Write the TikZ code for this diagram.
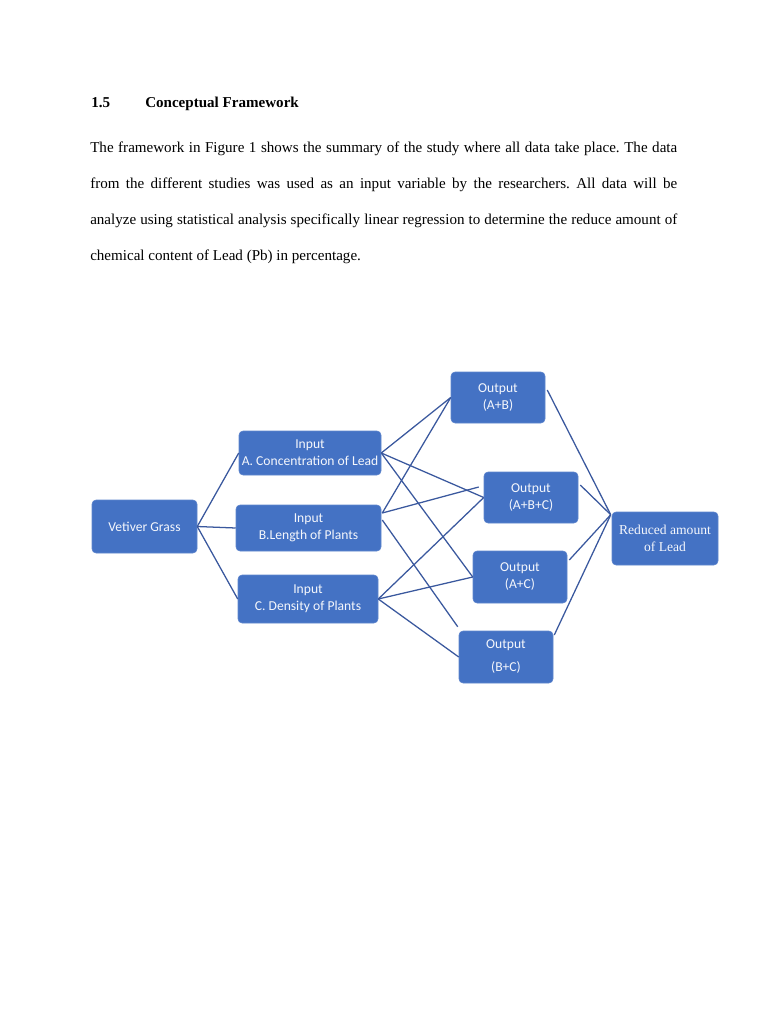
\documentclass[tikz,border=0pt]{standalone}
\usepackage{fontspec}
\setmainfont{Liberation Serif}
\newfontfamily\calibrifont{Carlito}
\usetikzlibrary{calc}
\definecolor{boxblue}{RGB}{68,114,196}
\definecolor{edgeblue}{RGB}{58,88,158}
\definecolor{boxtext}{RGB}{245,247,252}
\frenchspacing
\begin{document}
\begin{tikzpicture}[x=0.75pt,y=-0.75pt,
  box/.style={fill=boxblue, draw=boxblue!85!white, line width=0.4pt, rounded corners=3pt,
    text=boxtext, align=center, inner sep=0pt,
    font=\calibrifont\fontsize{10.2}{12.75}\selectfont},
  serifbox/.style={box, font=\fontsize{10.2}{12.75}\selectfont},
  link/.style={draw=edgeblue, line width=0.95pt},
  para/.style={anchor=base west, inner sep=0pt, font=\frenchspacing\fontsize{11.3}{13}\selectfont},
  head/.style={anchor=base west, inner sep=0pt, font=\bfseries\fontsize{11.3}{13}\selectfont}]
\useasboundingbox[fill=white] (0,0) rectangle (768,1024);

% heading and paragraph
\node[head] (hnum) at (91,108) {1.5};
\node[head] (htitle) at (145,108) {Conceptual Framework};
\node[para] (p1) at (90,152) {\makebox[440.25pt][s]{The framework in Figure 1 shows the summary of the study where all data take place. The data}};
\node[para] (p2) at (90,188) {\makebox[440.25pt][s]{from the different studies was used as an input variable by the researchers. All data will be}};
\node[para] (p3) at (90,224) {\makebox[440.25pt][s]{analyze using statistical analysis specifically linear regression to determine the reduce amount of}};
\node[para] (p4) at (90,260) {chemical content of Lead (Pb) in percentage.};

% boxes
\node[box, minimum width=78.75pt, minimum height=39.75pt] (V) at (144.5,526.5) {Vetiver Grass};
\node[box, minimum width=106.5pt, minimum height=33pt] (A) at (310,453) {Input\\A. Concentration of Lead};
\node[box, minimum width=108.75pt, minimum height=34.5pt] (B) at (308.5,528) {Input\\B.Length of Plants};
\node[box, minimum width=105pt, minimum height=36pt] (C) at (308,599) {Input\\C. Density of Plants};
\node[box, minimum width=70.5pt, minimum height=38.25pt] (O1) at (498,397.5) {Output\\(A+B)};
\node[box, minimum width=70.5pt, minimum height=38.25pt] (O2) at (531,497.5) {Output\\(A+B+C)};
\node[box, minimum width=70.5pt, minimum height=39pt] (O3) at (520,577) {Output\\(A+C)};
\node[box, minimum width=70.5pt, minimum height=39pt] (O4) at (506,657) {Output\\[4.5pt](B+C)};
\node[serifbox, minimum width=79.5pt, minimum height=39.75pt] (R) at (665,538.5) {Reduced amount\\of Lead};

% connection points
\coordinate (Bo1) at ($(B.east)+(1,-15)$);
\coordinate (Bo2) at ($(B.east)+(1,-8)$);
\coordinate (O2b) at ($(O2.west)+(-5,-10.5)$);
\coordinate (O4b) at ($(O4.north west)+(-1,-4)$);
\coordinate (O1r) at ($(O1.east)+(2,-7.5)$);
\coordinate (O2r) at ($(O2.east)+(2,-12.5)$);
\coordinate (O3r) at ($(O3.east)+(2,-17)$);
\coordinate (O4r) at ($(O4.east)+(1,-22)$);
\coordinate (Rin) at ($(R.north west)+(-1,3)$);

% connectors
\draw[link] (V.east) -- (A.west);
\draw[link] (V.east) -- (B.west);
\draw[link] (V.east) -- (C.west);
\draw[link] (A.east) -- (O1.west);
\draw[link] (A.east) -- (O2.west);
\draw[link] (A.east) -- (O3.west);
\draw[link] (Bo1) -- (O1.west);
\draw[link] (Bo1) -- (O2b);
\draw[link] (Bo2) -- (O4b);
\draw[link] (C.east) -- (O2.west);
\draw[link] (C.east) -- (O3.west);
\draw[link] (C.east) -- (O4.west);
\draw[link] (O1r) -- (Rin);
\draw[link] (O2r) -- (Rin);
\draw[link] (O3r) -- (Rin);
\draw[link] (O4r) -- (Rin);
\end{tikzpicture}
\end{document}
